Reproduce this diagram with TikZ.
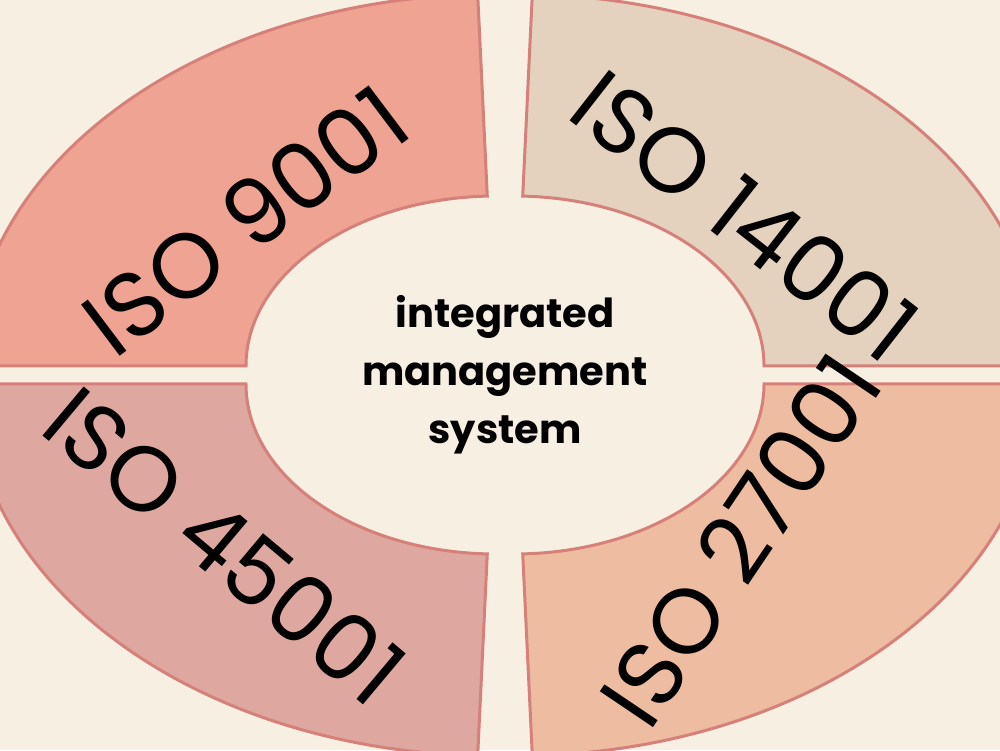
\documentclass[tikz,border=0pt]{standalone}
\usepackage{fontspec}
\setmainfont{Poppins}
\begin{document}
\begin{tikzpicture}[x=1pt,y=1pt,
 big/.style={font=\fontsize{92}{94}\selectfont, text=black}]
\useasboundingbox (0,0) rectangle (1000,750);
\clip (0,0) rectangle (1000,750);
\fill[fill={rgb,255:red,248;green,239;blue,227}] (0,0) rectangle (1000,750);
\definecolor{bd}{RGB}{214,128,122}
\definecolor{ca}{RGB}{239,163,146}
\definecolor{cb}{RGB}{229,210,190}
\definecolor{cc}{RGB}{238,188,160}
\definecolor{cd}{RGB}{222,168,160}
\newcommand{\quadseg}[5]{%
 \begin{scope}[shift={(505+#1,375+#2)}]
 \path[fill=#5, draw=bd, line width=3pt]
 (#3:525 and 372) arc[start angle=#3,end angle=#4,x radius=525,y radius=372]
 -- (#4:250 and 170) arc[start angle=#4,end angle=#3,x radius=250,y radius=170] -- cycle;
 \end{scope}}
\quadseg{-9}{9}{92}{180}{ca}
\quadseg{9}{9}{0}{88}{cb}
\quadseg{9}{-9}{-88}{0}{cc}
\quadseg{-9}{-9}{180}{268}{cd}
\node[big, rotate=37] (a) at (245,530) {ISO 9001};
\node[big, rotate=-38] (b) at (745,535) {ISO 14001};
\node[big, rotate=56] (c) at (740,210) {ISO 27001};
\node[big, rotate=-40] (d) at (225,205) {ISO 45001};
\node[font=\fontsize{40}{58}\selectfont\bfseries, align=center] (m) at (505,375) {integrated\\management\\system};
\end{tikzpicture}
\end{document}
